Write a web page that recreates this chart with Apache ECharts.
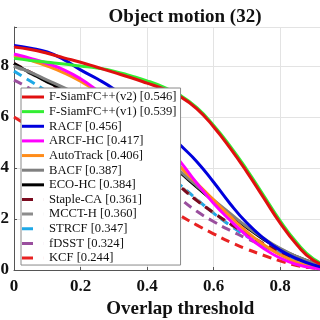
<!DOCTYPE html>
<html>
<head>
<meta charset="utf-8">
<script src="https://cdn.jsdelivr.net/npm/echarts@6/dist/echarts.min.js"></script>
<style>
html,body{margin:0;padding:0;background:#fff;overflow:hidden;width:320px;height:320px;}
#c{width:360px;height:320px;}
</style>
</head>
<body>
<div id="c"></div>
<script>
var thresholds = [0,0.05,0.1,0.15,0.2,0.25,0.3,0.35,0.4,0.45,0.5,0.55,0.6,0.65,0.7,0.75,0.8,0.85,0.9,0.95,1];
var xTicks = [0,0.2,0.4,0.6,0.8,1];
var yTicks = [0,0.2,0.4,0.6,0.8];
var names = ['F-SiamFC++(v2) [0.546]','F-SiamFC++(v1) [0.539]','RACF [0.456]','ARCF-HC [0.417]','AutoTrack [0.406]','BACF [0.387]','ECO-HC [0.384]','Staple-CA [0.361]','MCCT-H [0.360]','STRCF [0.347]','fDSST [0.324]','KCF [0.244]'];
var fV2      = [0.875,0.865,0.85,0.832,0.815,0.795,0.775,0.755,0.733,0.71,0.68,0.632,0.562,0.478,0.385,0.285,0.185,0.1,0.038,0.012,0];
var fV1      = [0.83,0.822,0.815,0.808,0.80,0.792,0.78,0.762,0.742,0.717,0.685,0.637,0.568,0.486,0.394,0.294,0.194,0.108,0.044,0.014,0];
var racf     = [0.88,0.87,0.855,0.825,0.785,0.75,0.71,0.66,0.61,0.555,0.49,0.425,0.345,0.26,0.185,0.125,0.078,0.045,0.02,0.006,0];
var arcf     = [0.847,0.83,0.81,0.785,0.75,0.705,0.66,0.615,0.562,0.5,0.425,0.34,0.262,0.195,0.135,0.085,0.047,0.022,0.008,0.002,0];
var autoTrack= [0.84,0.822,0.80,0.773,0.74,0.70,0.65,0.6,0.545,0.48,0.405,0.34,0.275,0.21,0.15,0.1,0.06,0.03,0.012,0.003,0];
var bacf     = [0.80,0.775,0.745,0.715,0.683,0.645,0.603,0.555,0.503,0.447,0.387,0.33,0.275,0.222,0.17,0.125,0.085,0.053,0.028,0.009,0];
var ecoHC    = [0.81,0.772,0.738,0.708,0.677,0.64,0.60,0.552,0.50,0.443,0.383,0.325,0.27,0.217,0.167,0.121,0.083,0.052,0.028,0.009,0];
var stapleCA = [0.81,0.775,0.74,0.70,0.66,0.615,0.568,0.515,0.455,0.392,0.327,0.272,0.225,0.181,0.141,0.104,0.071,0.045,0.024,0.008,0];
var mcctH    = [0.80,0.77,0.738,0.70,0.66,0.613,0.565,0.51,0.453,0.39,0.33,0.275,0.225,0.18,0.138,0.1,0.068,0.043,0.022,0.007,0];
var strcf    = [0.78,0.74,0.70,0.66,0.62,0.58,0.537,0.49,0.44,0.387,0.333,0.277,0.223,0.175,0.132,0.095,0.064,0.04,0.02,0.006,0];
var fdsst    = [0.745,0.71,0.67,0.63,0.585,0.54,0.495,0.447,0.395,0.337,0.28,0.23,0.19,0.155,0.124,0.094,0.065,0.04,0.02,0.006,0];
var kcf      = [0.60,0.56,0.52,0.48,0.44,0.40,0.362,0.325,0.288,0.25,0.213,0.176,0.142,0.11,0.082,0.058,0.036,0.018,0.008,0.003,0];

var values = [fV2,fV1,racf,arcf,autoTrack,bacf,ecoHC,stapleCA,mcctH,strcf,fdsst,kcf];
var colors = ['#e01010','#33ee33','#0000dd','#ff00ff','#ff8c1a','#808080','#000000','#7a0a1e','#8c8c8c','#1ea8e6','#9a4f9e','#e82222'];
var dashed = [false,false,false,false,false,false,false,true,true,true,true,true];

var serif = 'Liberation Serif';
function near(v, t){ return Math.abs(v - t) < 1e-6; }
function fmt(v, ticks){
  for (var i=0;i<ticks.length;i++){ if (near(v,ticks[i])) return String(ticks[i]); }
  return '';
}

var series = [];
for (var i = values.length - 1; i >= 0; i--) {
  series.push({
    name: names[i],
    type: 'line',
    data: thresholds.map(function(x, k){ return [x, values[i][k]]; }),
    symbol: 'none',
    smooth: 0.5,
    lineStyle: { color: colors[i], width: 3, type: dashed[i] ? [9,6] : 'solid', join: 'round' },
    itemStyle: { color: colors[i] },
    z: 2
  });
}

var solidIcon = 'path://M0,0H22V3H0Z';
var dashIcon = 'path://M0,0H11V3H0Z M21.95,0H22V3H21.95Z';
var legendData = names.map(function(n, i){
  return { name: n, icon: dashed[i] ? dashIcon : solidIcon };
});

var chart = echarts.init(document.getElementById('c'), null, {renderer:'canvas'});
chart.setOption({
  animation: false,
  backgroundColor: '#fff',
  title: {
    text: 'Object motion (32)',
    left: 180, textAlign: 'center', top: 3,
    textStyle: { fontFamily: serif, fontWeight: 'bold', fontSize: 19, color: '#111' }
  },
  grid: { left: 14, top: 27, width: 332.5, height: 243, outerBoundsMode: 'none', containLabel: false },
  legend: {
    data: legendData,
    orient: 'vertical',
    left: 21, top: 88,
    padding: [2, 4, 0, 1],
    itemWidth: 22, itemHeight: 3, itemGap: 0.64,
    backgroundColor: '#fff',
    borderColor: '#8a8a8a', borderWidth: 1,
    textStyle: { fontFamily: serif, fontSize: 12.6, lineHeight: 14, color: '#111' },
    z: 10
  },
  xAxis: {
    type: 'value', min: 0, max: 1, interval: 0.2,
    name: 'Overlap threshold', nameLocation: 'middle', nameGap: 29,
    nameTextStyle: { fontFamily: serif, fontWeight: 'bold', fontSize: 19, color: '#111' },
    axisLine: { show: true, lineStyle: { color: '#555', width: 1 } },
    axisTick: { show: true, inside: true, length: 3, lineStyle: { color: '#555' } },
    axisLabel: { margin: 8, fontFamily: serif, fontWeight: 'bold', fontSize: 17, color: '#111',
      formatter: function(v){ return fmt(v, xTicks); } },
    splitLine: { show: true, lineStyle: { color: '#e3e3e3', width: 1 } }
  },
  yAxis: {
    type: 'value', min: 0, max: 0.953, interval: 0.2,
    axisLine: { show: true, lineStyle: { color: '#555', width: 1 } },
    axisTick: { show: true, inside: true, length: 3, lineStyle: { color: '#555' } },
    axisLabel: { margin: 5, fontFamily: serif, fontWeight: 'bold', fontSize: 17, color: '#111',
      formatter: function(v){ return fmt(v, yTicks); } },
    splitLine: { show: true, lineStyle: { color: '#e3e3e3', width: 1 } }
  },
  series: series
});
</script>
</body>
</html>
